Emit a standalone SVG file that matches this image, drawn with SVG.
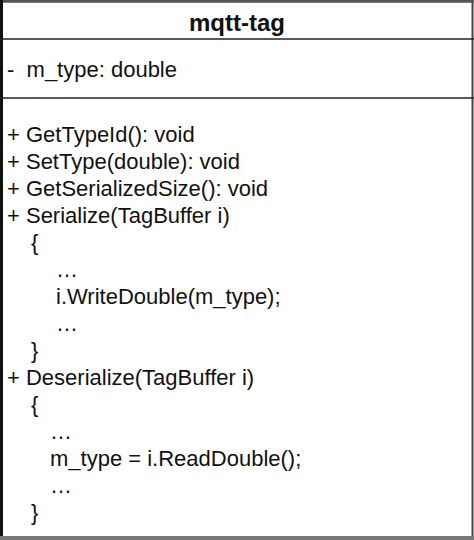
<svg xmlns="http://www.w3.org/2000/svg" width="474" height="540" viewBox="0 0 474 540">
<style>
.t{font-family:"Liberation Sans",Arial,sans-serif;font-size:22px;fill:#111}
.title{font-family:"Liberation Sans",Arial,sans-serif;font-size:24px;font-weight:bold;fill:#111}
.sep{stroke:#222;stroke-width:1.5}
</style>
<rect width="474" height="540" fill="#fff"/>
<g id="class-mqtt-tag">
<rect x="1.5" y="1.5" width="471" height="536" fill="none" stroke="#444" stroke-width="2"/>
<line x1="0" y1="1.2" x2="474" y2="1.2" stroke="#555" stroke-width="2.5"/>
<line x1="1.5" y1="0" x2="1.5" y2="540" stroke="#111" stroke-width="3"/>
<line x1="0" y1="538" x2="474" y2="538" stroke="#777" stroke-width="4"/>
<line class="sep" x1="0" y1="39" x2="474" y2="39"/>
<line class="sep" x1="0" y1="98" x2="474" y2="98"/>
<text class="title" x="237" y="31" text-anchor="middle">mqtt-tag</text>
<text class="t" x="7" y="77" xml:space="preserve">-  m_type: double</text>
<text class="t" x="7" y="142">+ GetTypeId(): void</text>
<text class="t" x="7" y="169">+ SetType(double): void</text>
<text class="t" x="7" y="196">+ GetSerializedSize(): void</text>
<text class="t" x="7" y="223">+ Serialize(TagBuffer i)</text>
<text class="t" x="31" y="250">{</text>
<text class="t" x="56" y="277">…</text>
<text class="t" x="56" y="304">i.WriteDouble(m_type);</text>
<text class="t" x="56" y="331">…</text>
<text class="t" x="31" y="358">}</text>
<text class="t" x="7" y="385">+ Deserialize(TagBuffer i)</text>
<text class="t" x="31" y="412">{</text>
<text class="t" x="50" y="439">…</text>
<text class="t" x="50" y="466">m_type = i.ReadDouble();</text>
<text class="t" x="50" y="493">…</text>
<text class="t" x="31" y="520">}</text>
</g>
<g id="connectors"/>
</svg>
